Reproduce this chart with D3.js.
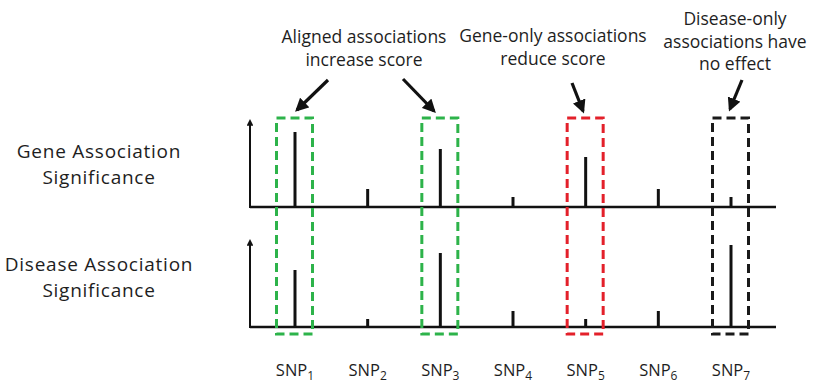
<!DOCTYPE html>
<html><head><meta charset="utf-8">
<script src="https://cdn.jsdelivr.net/npm/d3@7"></script>
<style>body{margin:0;background:#fff}svg{display:block}text{font-family:"Open Sans",Lato,sans-serif;fill:#1e1e1e}</style>
</head><body><svg id="c" width="840" height="391"></svg>
<script>
const snps = ["1","2","3","4","5","6","7"];
const geneSig = [75, 18, 58, 10, 50, 18, 10];
const diseaseSig = [57, 8, 74, 16, 8, 16, 82];
const panelLabels = [["Gene Association","Significance"],["Disease Association","Significance"]];
const boxSnps = ["1","3","5","7"];
const boxColors = ["#2db34a","#2db34a","#e3202a","#1a1a1a"];
const notes = [
  {lines:["Aligned associations","increase score"], cx:364, y:43},
  {lines:["Gene-only associations","reduce score"], cx:553, y:42},
  {lines:["Disease-only","associations have","no effect"], cx:735, y:25}
];
const arrows = [[328,80,297,110],[403,79,434,111],[572,83,583,111],[742,80,730,109]];

const svg = d3.select("#c");
const x = d3.scalePoint().domain(snps).range([295, 731]);
const axisX = 250, axisEnd = 776;
const panels = [{base:207, vals:geneSig, ly:158},{base:327, vals:diseaseSig, ly:271}];
const h = 89;
const y = d3.scaleLinear().domain([0, 89]).range([0, h]);

const defs = svg.append("defs");
defs.append("marker").attr("id","ah").attr("viewBox","0 0 10 10").attr("refX",8).attr("refY",5)
  .attr("markerWidth",4.2).attr("markerHeight",4.2).attr("orient","auto")
  .append("path").attr("d","M0,0L10,5L0,10z").attr("fill","#111");
defs.append("marker").attr("id","ah2").attr("viewBox","0 0 10 10").attr("refX",7).attr("refY",5)
  .attr("markerWidth",3.4).attr("markerHeight",3.4).attr("orient","auto")
  .append("path").attr("d","M0,0L10,5L0,10z").attr("fill","#111");

panels.forEach((p, i) => {
  const g = svg.append("g");
  g.append("line").attr("x1",axisX).attr("x2",axisEnd).attr("y1",p.base).attr("y2",p.base)
    .attr("stroke","#111").attr("stroke-width",2.5);
  g.append("line").attr("x1",axisX).attr("x2",axisX).attr("y1",p.base+1).attr("y2",p.base-h+3)
    .attr("stroke","#111").attr("stroke-width",2).attr("marker-end","url(#ah2)");
  g.selectAll("line.bar").data(p.vals).join("line").attr("class","bar")
    .attr("x1",(d,j)=>x(snps[j])).attr("x2",(d,j)=>x(snps[j]))
    .attr("y1",p.base).attr("y2",d=>p.base - y(d))
    .attr("stroke","#111").attr("stroke-width",3);
  panelLabels[i].forEach((t,k)=>svg.append("text").attr("text-anchor","middle").attr("font-size",19)
    .attr("letter-spacing",0.75).attr("x", 99).attr("y", p.ly + k*25.5).text(t));
});

boxSnps.forEach((s,i)=>{
  svg.append("rect").attr("x",x(s)-18.5).attr("y",118).attr("width",36).attr("height",216)
    .attr("fill","none").attr("stroke",boxColors[i]).attr("stroke-width",3)
    .attr("stroke-dasharray","9,5");
});

notes.forEach(n=>{
  n.lines.forEach((l,k)=>svg.append("text").attr("text-anchor","middle").attr("font-size",17.5)
    .attr("x",n.cx).attr("y",n.y + k*22.5).text(l));
});

arrows.forEach(a=>{
  svg.append("line").attr("x1",a[0]).attr("y1",a[1]).attr("x2",a[2]).attr("y2",a[3])
    .attr("stroke","#111").attr("stroke-width",3.2).attr("marker-end","url(#ah)");
});

snps.forEach(s=>{
  const t = svg.append("text").attr("x",x(s)).attr("y",376).attr("text-anchor","middle").attr("font-size",16.5);
  t.append("tspan").text("SNP");
  t.append("tspan").attr("font-size",12).attr("dy",4).text(s);
});
</script></body></html>
